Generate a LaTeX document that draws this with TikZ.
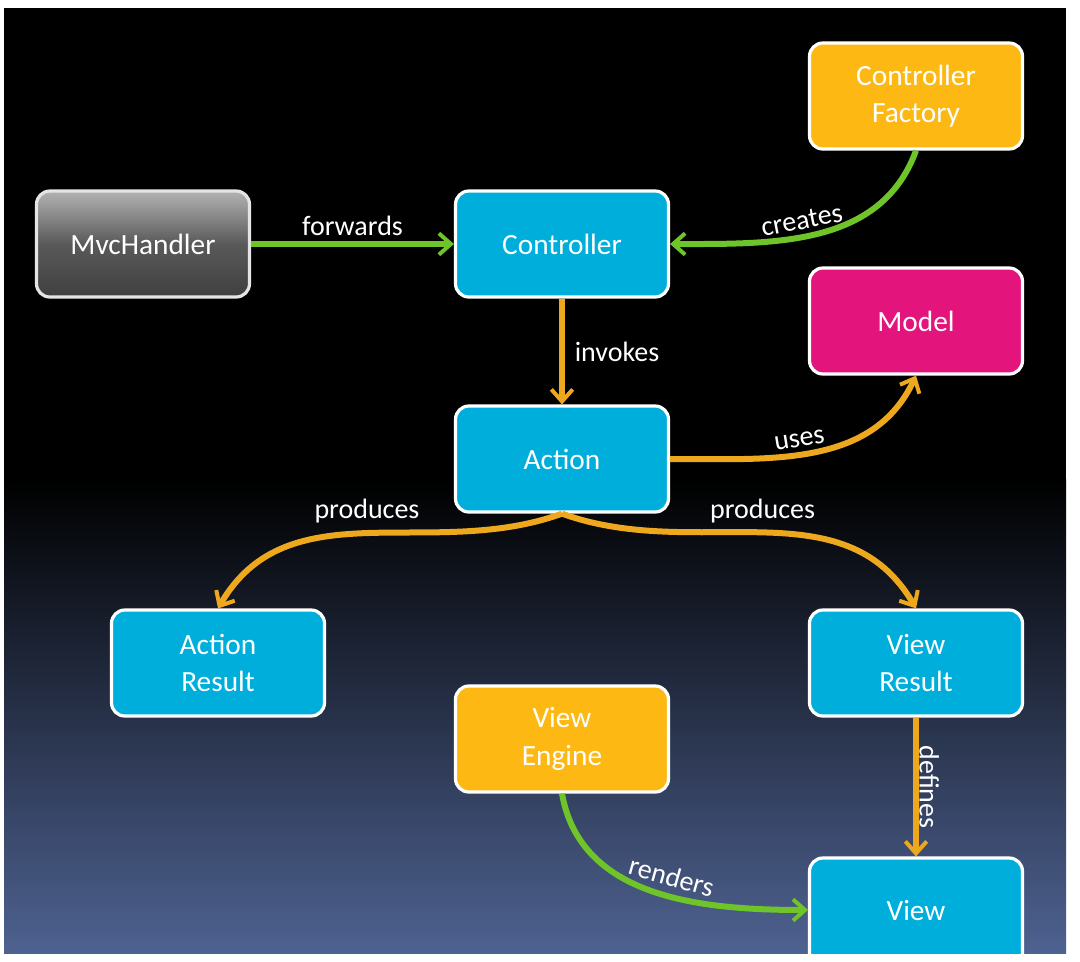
\documentclass[tikz,border=0pt]{standalone}
\usepackage{fontspec}
\setmainfont{Carlito}
\usetikzlibrary{arrows.meta}
\definecolor{cblue}{RGB}{0,174,219}
\definecolor{corange}{RGB}{253,184,19}
\definecolor{cmag}{RGB}{228,20,125}
\definecolor{agreen}{RGB}{110,196,40}
\definecolor{aorange}{RGB}{238,168,30}
\definecolor{bgblue}{RGB}{78,98,145}
\begin{document}
\begin{tikzpicture}[x=0.75pt,y=-0.75pt,
  box/.style={draw=white,line width=2.4pt,rounded corners=10pt,text=white,align=center,
    font=\fontsize{22}{28}\selectfont,minimum width=213*0.75pt,minimum height=106*0.75pt,inner sep=0pt},
  lbl/.style={text=white,font=\fontsize{21}{24}\selectfont},
  ga/.style={draw=agreen,line width=4.5pt,-{Straight Barb[length=9pt,width=16pt,line width=3pt]}},
  oa/.style={draw=aorange,line width=4.5pt,-{Straight Barb[length=9pt,width=16pt,line width=3pt]}}]
\useasboundingbox (0,0) rectangle (1080,961);
\fill[white] (0,0) rectangle (1080,961);
\begin{scope}
\clip (4,8) rectangle (1066,953);
\fill[black] (4,8) rectangle (1066,480);
\shade[top color=black,bottom color=bgblue] (4,479) rectangle (1066,953);
\node[box,draw=white!80!gray,top color=gray!60,bottom color=black!75,middle color=gray!70!black] (mvc) at (143,244) {MvcHandler};
\node[box,fill=cblue] (ctrl) at (562,244) {Controller};
\node[box,fill=corange] (fact) at (916,96) {Controller\\Factory};
\node[box,fill=cmag] (model) at (916,321) {Model};
\node[box,fill=cblue] (act) at (562,459) {Action};
\node[box,fill=cblue] (ares) at (218,663) {Action\\Result};
\node[box,fill=cblue] (vres) at (916,663) {View\\Result};
\node[box,fill=corange] (veng) at (562,739) {View\\Engine};
\node[box,fill=cblue,minimum height=120*0.75pt] (view) at (916,918) {};
\node[text=white,font=\fontsize{22}{28}\selectfont] at (916,910) {View};
\draw[ga] (mvc.east) -- node[lbl,above=1pt]{forwards} (ctrl.east-|ctrl.west);
\draw[ga] (fact.south) to[out=-110,in=0] node[lbl,sloped,above,pos=0.55]{creates} (ctrl.east);
\draw[oa] (ctrl.south) -- node[lbl,right=4pt]{invokes} (act.north);
\draw[oa] (act.east) to[out=0,in=-115] node[lbl,sloped,above,pos=0.45]{uses} (model.south);
\draw[oa] (act.south) to[out=-160,in=60] node[lbl,above=2pt,pos=0.5]{produces} (ares.north);
\draw[oa] (act.south) to[out=-20,in=120] node[lbl,above=2pt,pos=0.5]{produces} (vres.north);
\draw[oa] (vres.south) -- node[lbl,rotate=-90,below=3pt,anchor=south]{defines} (view.north);
\draw[ga] (veng.south) to[out=-80,in=180] node[lbl,sloped,above=2pt,pos=0.55]{renders} (916-108,910);
\end{scope}
\end{tikzpicture}
\end{document}
